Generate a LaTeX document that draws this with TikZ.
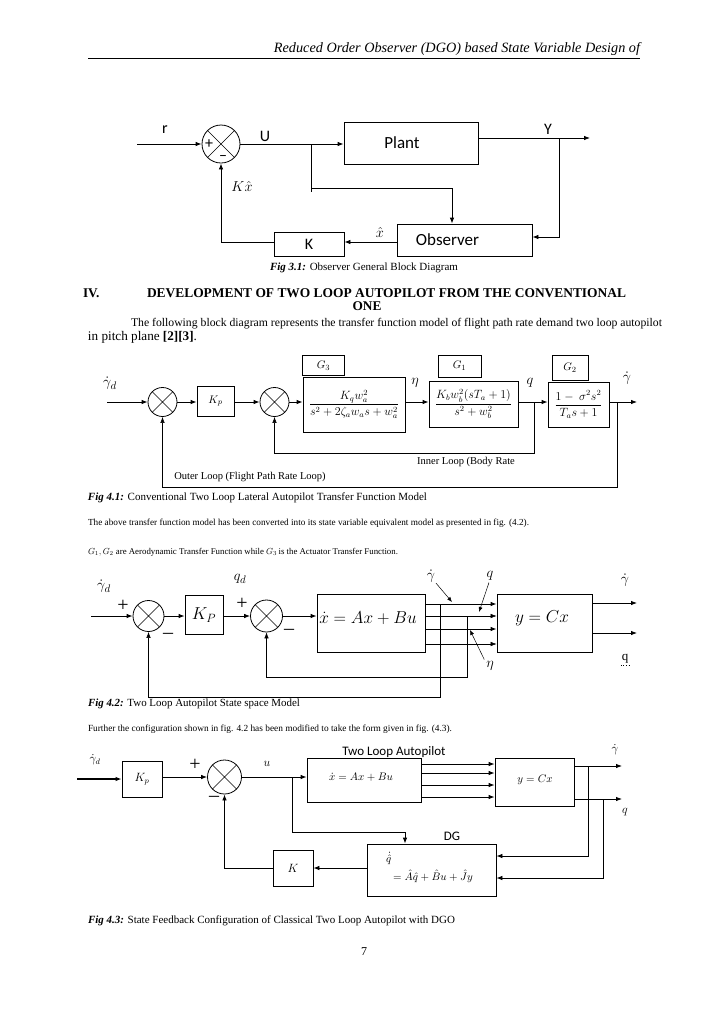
\documentclass[tikz,border=0pt]{standalone}
\usepackage{amsmath}
\usepackage{fontspec}
\setmainfont{Liberation Serif}
\newfontfamily\calib{Carlito}
\usetikzlibrary{arrows.meta,calc}
\newcommand{\fsz}[1]{\fontsize{#1}{#1}\selectfont}
\newcommand{\fitw}[2]{\resizebox{#1pt}{!}{#2}}
\tikzset{
  box/.style={draw, line width=0.8pt, inner sep=0pt},
  sumc/.style={draw, circle, inner sep=0pt, line width=0.8pt,
    path picture={\draw[line width=0.5pt] (path picture bounding box.north west) -- (path picture bounding box.south east) (path picture bounding box.north east) -- (path picture bounding box.south west);}},
  txt/.style={inner sep=0pt, outer sep=0pt},
  wire/.style={line width=0.8pt},
  fb/.style={line width=0.6pt, -{Latex[length=6pt,width=4.5pt]}},
  arr/.style={line width=0.8pt, -{Latex[length=6pt,width=4.5pt]}},
  thinarr/.style={line width=0.5pt, -{Latex[length=5pt,width=4pt]}},
}
\begin{document}
\begin{tikzpicture}[x=1pt,y=-1pt]
\useasboundingbox[fill=white] (0,0) rectangle (728,1029);

% ---------- header ----------
\node[txt, anchor=base east] (hdr) at (640,52) {\fitw{366}{\itshape Reduced Order Observer (DGO) based State Variable Design of}};
\coordinate (rl) at (88,58); \coordinate (rr) at (640,58);
\draw[line width=0.6pt] (rl) -- (rr);

% ---------- Fig 3.1 ----------
\node[sumc, minimum size=38pt] (s1) at (221,144) {};
\node[txt] (s1p) at (209,144) {\calib\fsz{16}+};
\node[txt] (s1m) at (223,158) {\calib\fsz{16}–};
\coordinate (r0) at (137,144);
\draw[arr] (r0) -- (s1.west);
\node[txt] (rlab) at (165,130) {\calib\fsz{16}r};
\node[box, minimum width=134pt, minimum height=42pt] (plant) at (411,143) {\calib\fsz{17}Plant\hspace*{18pt}};
\draw[arr] (s1.east) -- (plant.west |- s1.east);
\node[txt] (ulab) at (265,136) {\calib\fsz{16}U};
\coordinate (yend) at (590,138);
\draw[arr] (plant.east |- yend) -- (yend);
\node[txt] (ylab) at (548,129) {\calib\fsz{16}Y};
\coordinate (ytap) at (559,138);
\node[box, minimum width=135pt, minimum height=32pt] (obs) at (464.5,240) {\calib\fsz{17}Observer\hspace*{34pt}};
\draw[arr] (ytap) |- ($(obs.east)+(0,-3)$);
\node[box, minimum width=70pt, minimum height=24pt] (kb) at (309,244) {\calib\fsz{16}K};
\draw[arr] ($(obs.west)+(0,2)$) -- ($(kb.east)+(0,-2)$);
\node[txt] (xh) at (380,232) {\fsz{15}$\hat{x}$};
\draw[arr] ($(kb.west)+(0,-2)$) -| (s1.south);
\node[txt] (kxh) at (242,186) {\fsz{15}$K\hat{x}$};
\coordinate (b1) at (311,144);
\coordinate (b1b) at (311,192);
\coordinate (b1c) at (311,188);
\coordinate (b1d) at (452,188);
\draw[wire] (b1) -- (b1b);
\draw[arr] (b1c) -- (b1d) -- (obs.north -| b1d);
\node[txt, anchor=base west] (cap31) at (270,270) {\fitw{188}{{\bfseries\itshape Fig 3.1:} Observer General Block Diagram}};

% ---------- section text ----------
\node[txt, anchor=base west] (sec) at (83,297) {\fsz{13.3}\bfseries IV.};
\node[txt, anchor=base west] (sect) at (147,297) {\fitw{479}{\bfseries DEVELOPMENT OF TWO LOOP AUTOPILOT FROM THE CONVENTIONAL}};
\node[txt, anchor=base] (one) at (367,310) {\fsz{13.3}\bfseries ONE};
\node[txt, anchor=base west] (p1) at (131,326) {\fitw{531}{The following block diagram represents the transfer function model of flight path rate demand two loop autopilot}};
\node[txt, anchor=base west] (p2) at (88,340) {\fitw{109}{in pitch plane \textbf{[2][3]}.}};

% ---------- Fig 4.1 ----------
\node[txt] (gd1) at (110,383) {\fsz{15}$\dot{\gamma}_d$};
\node[sumc, minimum size=29pt] (c1) at (162.5,402) {};
\coordinate (in1) at (107,402);
\draw[arr] (in1) -- (c1.west);
\node[box, minimum width=37pt, minimum height=30pt] (kp1) at (215.5,401) {\fsz{11}$K_p$};
\draw[arr] (c1.east) -- (kp1.west |- c1.east);
\node[sumc, minimum size=29pt] (c2) at (274.5,402) {};
\draw[arr] (kp1.east |- c2.west) -- (c2.west);
\node[box, minimum width=102pt, minimum height=55pt] (g3) at (354,404.5) {\fsz{11.5}$\displaystyle\frac{K_q w_a^2}{s^2+2\zeta_a w_a s+w_a^2}$};
\draw[arr] (c2.east) -- (g3.west |- c2.east);
\node[box, minimum width=42pt, minimum height=20pt] (g3l) at (323.5,365.5) {\fsz{11}$G_3$};
\node[txt] (eta1) at (415,383) {\fsz{15}$\eta$};
\node[box, minimum width=89pt, minimum height=46pt] (g1) at (473.5,404) {\fsz{11.5}$\displaystyle\frac{K_b w_b^2 (sT_a+1)}{s^2+w_b^2}$};
\draw[arr] (g3.east |- c2.east) -- (g1.west |- c2.east);
\node[box, minimum width=43pt, minimum height=22pt] (g1l) at (459.5,366) {\fsz{11}$G_1$};
\node[txt] (q1) at (530,383) {\fsz{15}$q$};
\node[box, minimum width=61pt, minimum height=45pt] (g2) at (578.5,404.5) {\fsz{11.5}$\displaystyle\frac{1-\ \sigma^2 s^2}{T_a s+1}$};
\draw[arr] (g1.east |- c2.east) -- (g2.west |- c2.east);
\node[box, minimum width=36pt, minimum height=25pt] (g2l) at (570,367.5) {\fsz{11}$G_2$};
\coordinate (out1) at (637,402);
\draw[arr] (g2.east |- out1) -- (out1);
\node[txt] (gdo1) at (627,378) {\fsz{15}$\dot{\gamma}$};
\coordinate (t1) at (617,402); \coordinate (t1b) at (617,487);
\draw[fb] (t1) -- (t1b) -| (c1.south);
\coordinate (t2) at (534,402); \coordinate (t2b) at (534,453);
\draw[fb] (t2) -- (t2b) -| (c2.south);
\node[txt] (outer) at (250,477) {\fsz{10.5}Outer Loop (Flight Path Rate Loop)};
\node[txt] (inner) at (466,462) {\fsz{10.5}Inner Loop (Body Rate};
\node[txt, anchor=base west] (cap41) at (88,500) {\fitw{339}{{\bfseries\itshape Fig 4.1:} Conventional Two Loop Lateral Autopilot Transfer Function Model}};

\node[txt, anchor=base west] (body1) at (88,525) {\fitw{441}{The above transfer function model has been converted into its state variable equivalent model as presented in fig. (4.2).}};
\node[txt, anchor=base west] (body2) at (88,554) {\fitw{310}{$G_1, G_2$ are Aerodynamic Transfer Function while $G_3$\,is the Actuator Transfer Function.}};

% ---------- Fig 4.2 ----------
\node[txt] (gd2) at (104,586) {\fsz{15}$\dot{\gamma}_d$};
\node[sumc, minimum size=31pt] (d1) at (148.5,616) {};
\coordinate (in2) at (91,616);
\draw[arr] (in2) -- (d1.west);
\node[txt] (d1p) at (123,606) {\fsz{20}+};
\node[txt] (d1m) at (168,636) {\fsz{20}–};
\node[box, minimum width=38pt, minimum height=39pt] (kp2) at (204,615) {\fsz{17}$K_P$};
\draw[arr] (d1.east) -- (kp2.west |- d1.east);
\node[sumc, minimum size=32pt] (d2) at (266.5,616) {};
\draw[arr] (kp2.east |- d2.west) -- (d2.west);
\node[txt] (d2p) at (242,604) {\fsz{20}+};
\node[txt] (d2m) at (289,632) {\fsz{20}–};
\node[txt] (qd) at (240,579) {\fsz{15}$q_d$};
\node[box, minimum width=108pt, minimum height=58pt] (xs2) at (371,623) {};
\node[txt] (xs2t) at (368,618) {\fsz{17}$\dot{x} = Ax + Bu$};
\draw[arr] (d2.east) -- (xs2.west |- d2.east);
\node[box, minimum width=95pt, minimum height=58pt] (yc2) at (544.5,623) {};
\node[txt] (yc2t) at (542,618) {\fsz{17}$y = Cx$};
\foreach \yy/\w in {604/0.9,616/0.5,629/0.9,644/0.5}{
  \draw[arr, line width=\w pt] (xs2.east |- 0,\yy) -- (yc2.west |- 0,\yy);
}
\coordinate (o21) at (637,603); \coordinate (o22) at (637,633);
\draw[arr] (yc2.east |- o21) -- (o21);
\draw[arr] (yc2.east |- o22) -- (o22);
\node[txt] (gdo2) at (625,580) {\fsz{15}$\dot{\gamma}$};
\node[txt] (qo2) at (625,659) {\fsz{13}q};
\draw[dotted, line width=0.6pt] ($(qo2.south west)+(-1,2)$) -- ($(qo2.south east)+(1,2)$);
\coordinate (f21) at (467,616); \coordinate (f21b) at (467,677);
\draw[fb] (f21) -- (f21b) -| (d2.south);
\coordinate (f22) at (440,604); \coordinate (f22b) at (440,697);
\draw[fb] (f22) -- (f22b) -| (d1.south);
\node[txt] (gm) at (431,576) {\fsz{15}$\dot{\gamma}$};
\coordinate (gmp) at (452,602);
\draw[thinarr] ($(gm.south east)+(1,1)$) -- (gmp);
\node[txt] (qm) at (490,576) {\fsz{15}$q$};
\coordinate (qmp) at (479,612);
\draw[thinarr] ($(qm.south)+(-1,2)$) -- (qmp);
\node[txt] (etam) at (490,666) {\fsz{15}$\eta$};
\coordinate (etamp) at (470,630);
\draw[thinarr] ($(etam.north west)+(-2,-2)$) -- (etamp);
\node[txt, anchor=base west] (cap42) at (88,706) {\fitw{212}{{\bfseries\itshape Fig 4.2:} Two Loop Autopilot State space Model}};

\node[txt, anchor=base west] (body3) at (88,731) {\fitw{364}{Further the configuration shown in fig. 4.2 has been modified to take the form given in fig. (4.3).}};

% ---------- Fig 4.3 ----------
\node[txt] (gd3) at (95,760) {\fsz{12}$\dot{\gamma}_d$};
\node[box, minimum width=40pt, minimum height=36pt] (kp3) at (142,779) {\fsz{12}$K_p$};
\coordinate (in3) at (77,779);
\draw[arr, line width=1.4pt] (in3) -- (kp3.west);
\node[sumc, minimum size=34pt] (e1) at (224.5,777) {};
\draw[arr] (kp3.east |- e1.west) -- (e1.west);
\node[txt] (e1p) at (195,765) {\fsz{20}+};
\node[txt] (e1m) at (214,799) {\fsz{20}–};
\node[txt] (u3) at (267,764) {\fsz{13}$u$};
\node[box, minimum width=114pt, minimum height=44pt] (xs3) at (364,780) {};
\node[txt] (xs3t) at (361,777) {\fsz{10.5}$\dot{x} = Ax + Bu$};
\draw[arr] (e1.east) -- (xs3.west |- e1.east);
\node[txt] (tla) at (394,752) {\calib\fsz{13}Two Loop Autopilot};
\node[box, minimum width=79pt, minimum height=48pt] (yc3) at (534.5,782) {};
\node[txt] (yc3t) at (535,780) {\fsz{11}$y = Cx$};
\foreach \yy in {764,773,785,797}{
  \draw[arr] (xs3.east |- 0,\yy) -- (yc3.west |- 0,\yy);
}
\coordinate (o31) at (622,766); \coordinate (o32) at (622,799);
\draw[arr] (yc3.east |- o31) -- (o31);
\draw[arr] (yc3.east |- o32) -- (o32);
\node[txt] (gdo3) at (615,750) {\fsz{12}$\dot{\gamma}$};
\node[txt] (qo3) at (625,812) {\fsz{12}$q$};
\node[box, minimum width=129pt, minimum height=52pt] (dg) at (431.5,870) {};
\node[txt, anchor=west] (dgt1) at (386,858) {\fsz{11}$\dot{\hat{q}}$};
\node[txt] (dgt2) at (433,876) {\fsz{10.5}$= \hat{A}\hat{q} + \hat{B}u + \hat{J}y$};
\node[txt] (dgl) at (452,836) {\calib\fsz{13}DG};
\coordinate (tp1) at (588,766); \coordinate (tp2) at (603,799);
\draw[arr] (tp1) |- ($(dg.east)+(0,-14)$);
\draw[arr] (tp2) |- ($(dg.east)+(0,8)$);
\coordinate (br3) at (292,777); \coordinate (br3b) at (292,832); \coordinate (br3c) at (405,832);
\draw[arr] (br3) -- (br3b) -- (br3c) -- (dg.north -| br3c);
\node[box, minimum width=40pt, minimum height=36pt] (k3) at (293,868) {\fsz{12}$K$};
\draw[arr] (dg.west |- k3.east) -- (k3.east);
\draw[arr] (k3.west) -| (e1.south);
\node[txt, anchor=base west] (cap43) at (88,923) {\fitw{367}{{\bfseries\itshape Fig 4.3:} State Feedback Configuration of Classical Two Loop Autopilot with DGO}};
\node[txt] (pg) at (364,952) {\fsz{12}7};
\end{tikzpicture}
\end{document}
